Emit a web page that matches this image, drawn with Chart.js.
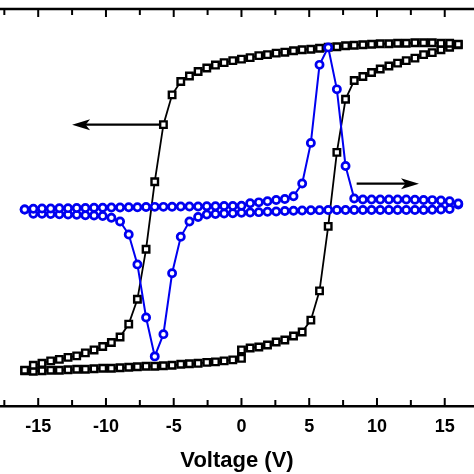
<!DOCTYPE html>
<html>
<head>
<meta charset="utf-8">
<script src="https://cdn.jsdelivr.net/npm/chart.js@4.4.1/dist/chart.umd.min.js"></script>
<style>
  html, body { margin: 0; padding: 0; background: #fff; }
  #wrap { width: 474px; height: 474px; }
</style>
</head>
<body>
<div id="wrap"><canvas id="loop" width="474" height="474"></canvas></div>
<script>
// sweep voltages (V), same grid for every branch
const voltage = [-16, -15.36, -14.72, -14.08, -13.44, -12.8, -12.16, -11.52, -10.88, -10.24,
  -9.6, -8.96, -8.32, -7.68, -7.04, -6.4, -5.76, -5.12, -4.48, -3.84,
  -3.2, -2.56, -1.92, -1.28, -0.64, 0, 0.64, 1.28, 1.92, 2.56,
  3.2, 3.84, 4.48, 5.12, 5.76, 6.4, 7.04, 7.68, 8.32, 8.96,
  9.6, 10.24, 10.88, 11.52, 12.16, 12.8, 13.44, 14.08, 14.72, 15.36, 16];

// polarization, left axis (sweep +16 -> -16, listed low to high voltage)
const polDown = [-32.8, -31.8, -31.4, -30.9, -30.6, -30.2, -29.9, -29.3, -28.7, -28.0,
  -27.2, -26.1, -23.5, -18.5, -8.4, 5.2, 16.7, 22.7, 25.4, 26.5,
  27.4, 28.1, 28.7, 29.2, 29.6, 29.9, 30.2, 30.6, 30.8, 31.1,
  31.3, 31.6, 31.8, 31.9, 32.1, 32.3, 32.4, 32.6, 32.7, 32.8,
  32.9, 33.0, 33.0, 33.1, 33.1, 33.2, 33.2, 33.2, 33.1, 33.1, 32.9];
// sweep -16 -> +16
const polUp = [-32.9, -33.0, -32.9, -32.8, -32.8, -32.7, -32.6, -32.6, -32.5, -32.4,
  -32.4, -32.3, -32.2, -32.1, -32.0, -32.0, -31.9, -31.8, -31.6, -31.5,
  -31.4, -31.2, -31.1, -30.9, -30.7, -30.4, -28.3, -28.1, -27.7, -27.1,
  -26.7, -25.9, -25.1, -22.7, -16.8, -3.8, 11.1, 21.8, 25.6, 26.4,
  27.2, 27.9, 28.5, 29.1, 29.6, 30.1, 30.8, 31.2, 31.8, 32.3, 32.8];
const polStart = -28.7; // first point of the run, at 0 V

// current, right axis
const curUp = [-0.15, -0.10, -0.08, -0.08, -0.06, -0.05, -0.04, -0.03, -0.02, -0.02,
  0, 0, 0.02, 0.02, 0.04, 0.05, 0.05, 0.06, 0.08, 0.08,
  0.08, 0.09, 0.10, 0.11, 0.11, 0.13, 0.32, 0.39, 0.47, 0.57,
  0.64, 0.85, 1.81, 4.88, 10.78, 12.10, 8.93, 3.14, 0.68, 0.60,
  0.60, 0.60, 0.60, 0.60, 0.60, 0.59, 0.57, 0.56, 0.53, 0.47, 0.30];
const curDown = [-0.15, -0.47, -0.48, -0.50, -0.51, -0.53, -0.55, -0.58, -0.60, -0.64,
  -0.78, -1.06, -2.04, -4.30, -8.31, -11.25, -9.57, -4.97, -2.21, -1.06,
  -0.72, -0.53, -0.49, -0.45, -0.43, -0.40, -0.38, -0.35, -0.32, -0.30,
  -0.27, -0.25, -0.23, -0.21, -0.20, -0.19, -0.19, -0.19, -0.19, -0.19,
  -0.19, -0.19, -0.19, -0.19, -0.19, -0.19, -0.19, -0.17, -0.15, -0.11, 0.23];

const xTicks = [-15, -10, -5, 0, 5, 10, 15];
const xMinorTicks = [-17.5, -12.5, -7.5, -2.5, 2.5, 7.5, 12.5, 17.5];

// arrows pointing at the axis each curve belongs to
const arrows = [
  { axis: 'y', from: -6.0, to: -12.5, at: 16.7 },
  { axis: 'y1', from: 8.5, to: 13.1, at: 1.8 }
];

const pts = (ys) => voltage.map((v, i) => ({ x: v, y: ys[i] }));
const lowerLoop = pts(polUp);
lowerLoop.splice(26, 0, { x: 0, y: polStart });

const FONT = "'Liberation Sans', Arial, sans-serif";
const BLUE = '#0000f0';

const squareStyle = {
  showLine: true, borderColor: '#000', borderWidth: 1.8,
  pointStyle: 'rect', pointRadius: 4.6, pointBorderWidth: 2.4,
  pointBackgroundColor: '#fff', pointBorderColor: '#000', yAxisID: 'y'
};
const circleStyle = {
  showLine: true, borderColor: BLUE, borderWidth: 2,
  pointStyle: 'circle', pointRadius: 3.6, pointBorderWidth: 2.7,
  pointBackgroundColor: '#fff', pointBorderColor: BLUE, yAxisID: 'y1'
};

const axisFrame = {
  id: 'axisFrame',
  afterDraw(chart) {
    const { ctx, chartArea: a } = chart;
    const x = chart.scales.x;
    ctx.save();
    ctx.strokeStyle = '#000';
    ctx.lineWidth = 2.5;
    ctx.beginPath();
    ctx.moveTo(0, a.top);
    ctx.lineTo(chart.width, a.top);
    ctx.stroke();
    ctx.lineWidth = 2;
    ctx.beginPath();
    const tick = (v, len) => {
      const px = x.getPixelForValue(v);
      ctx.moveTo(px, a.top);
      ctx.lineTo(px, a.top + len);
      ctx.moveTo(px, a.bottom);
      ctx.lineTo(px, a.bottom - len);
    };
    xTicks.forEach(v => tick(v, 8));
    xMinorTicks.forEach(v => tick(v, 6));
    ctx.stroke();
    ctx.restore();
  }
};

const arrowPlugin = {
  id: 'arrowPlugin',
  afterDatasetsDraw(chart) {
    const ctx = chart.ctx;
    const x = chart.scales.x;
    ctx.save();
    ctx.strokeStyle = '#000';
    ctx.fillStyle = '#000';
    ctx.lineWidth = 2.2;
    arrows.forEach(a => {
      const y = chart.scales[a.axis].getPixelForValue(a.at);
      const x0 = x.getPixelForValue(a.from);
      const x1 = x.getPixelForValue(a.to);
      const dir = Math.sign(x1 - x0);
      const head = 18, half = 5.5;
      ctx.beginPath();
      ctx.moveTo(x0, y);
      ctx.lineTo(x1 - dir * head * 0.7, y);
      ctx.stroke();
      ctx.beginPath();
      ctx.moveTo(x1, y);
      ctx.lineTo(x1 - dir * head, y - half);
      ctx.lineTo(x1 - dir * head * 0.75, y);
      ctx.lineTo(x1 - dir * head, y + half);
      ctx.closePath();
      ctx.fill();
    });
    ctx.restore();
  }
};

new Chart(document.getElementById('loop'), {
  type: 'scatter',
  data: {
    datasets: [
      { ...circleStyle, label: 'I up', data: pts(curUp) },
      { ...circleStyle, label: 'I down', data: pts(curDown) },
      { ...squareStyle, label: 'P down', data: pts(polDown) },
      { ...squareStyle, label: 'P up', data: lowerLoop }
    ]
  },
  options: {
    responsive: false,
    animation: false,
    layout: { autoPadding: false, padding: { top: 9, left: 0, right: 0, bottom: 0 } },
    plugins: { legend: { display: false }, tooltip: { enabled: false } },
    elements: { line: { tension: 0 } },
    scales: {
      x: {
        type: 'linear', position: 'bottom',
        min: -17.82, max: 17.16,
        afterBuildTicks: (axis) => { axis.ticks = xTicks.map(v => ({ value: v })); },
        grid: { display: false, drawTicks: false },
        border: { display: true, color: '#000', width: 2.5 },
        ticks: {
          color: '#000', padding: 10, maxRotation: 0,
          font: { family: FONT, size: 18, weight: 'bold' }
        },
        title: {
          display: true, text: 'Voltage (V)', color: '#000',
          padding: { top: 0, bottom: 0 },
          font: { family: FONT, size: 22, weight: 'bold' }
        }
      },
      y: { display: false, min: -40, max: 40 },
      y1: { display: false, min: -15, max: 15 }
    }
  },
  plugins: [axisFrame, arrowPlugin]
});
</script>
</body>
</html>
